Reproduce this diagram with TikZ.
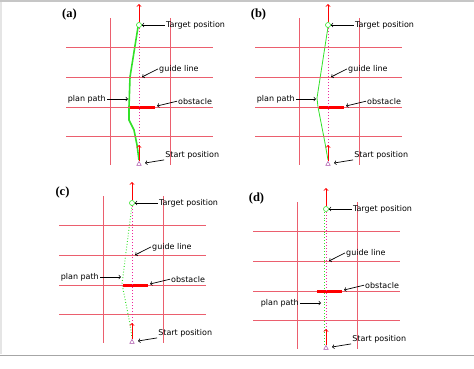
\documentclass[tikz,border=0pt]{standalone}
\usepackage{fontspec}
\setmainfont{Liberation Serif}
\setsansfont{DejaVu Sans}
\usetikzlibrary{positioning}
\usetikzlibrary{shapes.geometric}

\definecolor{pathgreen}{RGB}{50,225,40}
\definecolor{gridred}{RGB}{235,95,110}

% grid, guide line, markers and labels shared by all four panels
\newcommand{\panelbase}[2]{%
    % grid
    \foreach \gx in {110.5,170.5} \draw[gridline] (\gx,18) -- (\gx,165);
    \foreach \gy in {47.5,77.5,107.5,136.5} \draw[gridline] (66,\gy) -- (213,\gy);
    % nodes
    \node[panelname]   (name#1)  at (69.5,14)  {(#2)};
    \node[targetmark]  (tgt#1)   at (139,25) {};
    \node[startmark]   (start#1) at (139,164) {};
    \coordinate (tgthead#1)   at (139,4);
    \coordinate (starthead#1) at (139,145);
    \coordinate (guide#1)     at (139,77);
    \coordinate (guidetip#1)  at (142,77);
    \coordinate (obs#1)       at (155,107.5);
    \coordinate (obstip#1)    at (157,106);
    \coordinate (starttip#1)  at (145,163);
    % obstacle and guide line
    \draw[obstacleline] (130,107.5) -- (obs#1);
    \draw[guideline] (start#1) -- (tgt#1);
    \draw[headarrow] (tgt#1) -- (tgthead#1);
    \draw[headarrow] (start#1) -- (starthead#1);
    % labels
    \node[labeltext] (tgtlab#1)   [right=23pt of tgt#1]                {Target position};
    \node[labeltext] (guidelab#1) [above right=3pt and 19pt of guide#1] {guide line};
    \node[labeltext] (obslab#1)   [above right=2pt and 22pt of obs#1]   {obstacle};
    \node[labeltext] (startlab#1) [above right=3pt and 24pt of start#1] {Start position};
    \draw[pointer] (tgtlab#1) -- (tgt#1);
    \draw[pointer] (guidelab#1.west) -- (guidetip#1);
    \draw[pointer] (obslab#1.west) -- (obstip#1);
    \draw[pointer] (startlab#1.south west) -- (starttip#1);
}

\begin{document}
\begin{tikzpicture}[x=1pt, y=-1pt,
    gridline/.style={gridred, line width=1pt},
    guideline/.style={magenta!85, dotted, line width=1pt},
    headarrow/.style={->, red, line width=0.9pt},
    obstacleline/.style={red, line width=2.6pt},
    pointer/.style={->, black, line width=0.7pt},
    labeltext/.style={font=\sffamily\fontsize{8}{9}\selectfont, inner sep=1pt},
    panelname/.style={font=\bfseries\fontsize{12.5}{14}\selectfont, inner sep=0pt},
    targetmark/.style={circle, draw=pathgreen, line width=0.6pt, minimum size=5pt, inner sep=0pt},
    startmark/.style={regular polygon, regular polygon sides=3, draw=violet!70, line width=0.5pt, minimum size=5pt, inner sep=0pt},
    planpath/.style={pathgreen, line width=0.8pt},
]
    \useasboundingbox (0,0) rectangle (474,368);
    % frame
    \draw[gray!45, line width=2pt] (0,1) -- (474,1);
    \draw[gray!20, line width=2pt] (1,2) -- (1,354);
    \draw[gray!70, line width=1pt] (0,355.5) -- (474,355.5);

    % (a)
    \begin{scope}
        \draw[planpath, line width=1.6pt] (138,27) -- (130,77) -- (129,107) -- (129,120)
            -- (134,130) -- (137,145) -- (139,160);
        \panelbase{a}{a}
        \coordinate (plan-a) at (128,99);
        \node[labeltext] (planlab-a) [left=21pt of plan-a] {plan path};
        \draw[pointer] (planlab-a) -- (plan-a);
    \end{scope}

    % (b)
    \begin{scope}[shift={(189,0)}]
        \draw[planpath] (139,27) -- (128,98) -- (129,107) -- (136,143) -- (139,160);
        \panelbase{b}{b}
        \coordinate (plan-b) at (127,99);
        \node[labeltext] (planlab-b) [left=20pt of plan-b] {plan path};
        \draw[pointer] (planlab-b) -- (plan-b);
    \end{scope}

    % (c)
    \begin{scope}[shift={(-7,178)}]
        \draw[planpath, dotted, line width=1pt] (139,27) -- (129,106) -- (137,146) -- (139,160);
        \panelbase{c}{c}
        \coordinate (plan-c) at (128,99);
        \node[labeltext] (planlab-c) [left=21pt of plan-c] {plan path};
        \draw[pointer] (planlab-c) -- (plan-c);
    \end{scope}

    % (d)
    \begin{scope}[shift={(187,184)}]
        \draw[planpath, dotted, line width=1pt] (137.5,28) -- (137.5,160);
        \panelbase{d}{d}
        \coordinate (plan-d) at (134,119);
        \node[labeltext] (planlab-d) [left=21pt of plan-d] {plan path};
        \draw[pointer] (planlab-d) -- (plan-d);
    \end{scope}
\end{tikzpicture}
\end{document}
